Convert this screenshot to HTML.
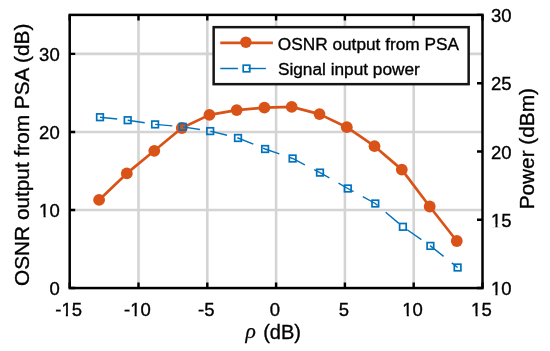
<!DOCTYPE html>
<html><head><meta charset="utf-8"><title>OSNR output from PSA vs rho</title><style>
html,body{margin:0;padding:0;background:#fff;overflow:hidden;}
svg{display:block;}
text{font-family:"Liberation Sans",Arial,sans-serif;font-size:18.5px;fill:#000;stroke:#000;stroke-width:0.35px;}
</style></head><body>
<svg width="550" height="351" viewBox="0 0 550 351">
<rect x="0" y="0" width="550" height="351" fill="#fff"/>
<path d="M138.50 14.90V288.06M207.30 14.90V288.06M276.10 14.90V288.06M344.90 14.90V288.06M413.70 14.90V288.06M69.70 210.01H482.50M69.70 131.97H482.50M69.70 53.92H482.50" stroke="#d4d4d4" stroke-width="2.6" fill="none"/>
<polyline points="99.1,199.9 126.8,173.4 154.3,150.8 181.8,128.0 209.4,114.9 236.7,110.1 264.4,107.7 291.7,106.9 319.5,114.1 346.8,127.2 374.5,146.2 401.8,169.6 429.7,206.5 456.8,241.0" fill="none" stroke="#D95319" stroke-width="2.7" stroke-linejoin="round"/>
<g fill="#D95319"><circle cx="99.1" cy="199.9" r="5.9"/><circle cx="126.8" cy="173.4" r="5.9"/><circle cx="154.3" cy="150.8" r="5.9"/><circle cx="181.8" cy="128.0" r="5.9"/><circle cx="209.4" cy="114.9" r="5.9"/><circle cx="236.7" cy="110.1" r="5.9"/><circle cx="264.4" cy="107.7" r="5.9"/><circle cx="291.7" cy="106.9" r="5.9"/><circle cx="319.5" cy="114.1" r="5.9"/><circle cx="346.8" cy="127.2" r="5.9"/><circle cx="374.5" cy="146.2" r="5.9"/><circle cx="401.8" cy="169.6" r="5.9"/><circle cx="429.7" cy="206.5" r="5.9"/><circle cx="456.8" cy="241.0" r="5.9"/></g>
<polyline points="100.0,117.2 127.7,120.2 155.1,124.4 182.7,126.8 210.2,131.1 238.0,138.0 265.1,149.0 292.6,158.5 320.0,172.6 347.8,188.5 375.3,203.5 402.9,226.8 430.4,245.9 457.6,267.5" fill="none" stroke="#0072BD" stroke-width="1.4" stroke-dasharray="17.3 10.5"/>
<g fill="none" stroke="#0072BD" stroke-width="1.7"><rect x="96.70" y="113.90" width="6.6" height="6.6"/><rect x="124.40" y="116.90" width="6.6" height="6.6"/><rect x="151.80" y="121.10" width="6.6" height="6.6"/><rect x="179.40" y="123.50" width="6.6" height="6.6"/><rect x="206.90" y="127.80" width="6.6" height="6.6"/><rect x="234.70" y="134.70" width="6.6" height="6.6"/><rect x="261.80" y="145.70" width="6.6" height="6.6"/><rect x="289.30" y="155.20" width="6.6" height="6.6"/><rect x="316.70" y="169.30" width="6.6" height="6.6"/><rect x="344.50" y="185.20" width="6.6" height="6.6"/><rect x="372.00" y="200.20" width="6.6" height="6.6"/><rect x="399.60" y="223.50" width="6.6" height="6.6"/><rect x="427.10" y="242.60" width="6.6" height="6.6"/><rect x="454.30" y="264.20" width="6.6" height="6.6"/></g>
<rect x="69.7" y="14.9" width="412.80" height="273.16" fill="none" stroke="#000" stroke-width="2.5"/>
<path d="M69.70 288.06V282.56M69.70 14.90V20.40M138.50 288.06V282.56M138.50 14.90V20.40M207.30 288.06V282.56M207.30 14.90V20.40M276.10 288.06V282.56M276.10 14.90V20.40M344.90 288.06V282.56M344.90 14.90V20.40M413.70 288.06V282.56M413.70 14.90V20.40M482.50 288.06V282.56M482.50 14.90V20.40M69.70 288.06H75.20M69.70 210.01H75.20M69.70 131.97H75.20M69.70 53.92H75.20M482.50 288.06H477.00M482.50 219.77H477.00M482.50 151.48H477.00M482.50 83.19H477.00M482.50 14.90H477.00" stroke="#000" stroke-width="2.4" fill="none"/>
<g class="t">
<text x="55.23" y="316.40">-15</text>
<text x="124.03" y="316.40">-10</text>
<text x="197.98" y="316.40">-5</text>
<text x="269.86" y="316.40">0</text>
<text x="338.66" y="316.40">5</text>
<text x="402.31" y="316.40">10</text>
<text x="471.11" y="316.40">15</text>
<text x="49.41" y="295.36">0</text>
<text x="39.12" y="217.31">10</text>
<text x="39.12" y="139.27">20</text>
<text x="39.12" y="61.22">30</text>
<text x="491.00" y="295.26">10</text>
<text x="491.00" y="226.97">15</text>
<text x="491.00" y="158.68">20</text>
<text x="491.00" y="90.39">25</text>
<text x="491.00" y="22.10">30</text>
</g>
<text transform="translate(29.1 154.8) rotate(-90)" text-anchor="middle" style="font-size:20.8px">OSNR output from PSA (dB)</text>
<text transform="translate(534.2 148.7) rotate(-90)" text-anchor="middle" style="font-size:20.8px">Power (dBm)</text>
<text x="245.6" y="338.4" style="font-family:'Liberation Serif',serif;font-style:italic;font-size:21.5px;stroke-width:0.25px">ρ</text>
<text x="263.2" y="338.7" style="font-size:20px">(dB)</text>
<rect x="213.66" y="27.16" width="255" height="57" fill="#fff" stroke="#151515" stroke-width="2.5"/>
<line x1="220.3" y1="42.9" x2="272.9" y2="42.9" stroke="#D95319" stroke-width="2.7"/>
<circle cx="245.9" cy="42.2" r="5.8" fill="#D95319"/>
<line x1="220.3" y1="68.5" x2="272.9" y2="68.5" stroke="#0072BD" stroke-width="1.4" stroke-dasharray="17.6 10.4"/>
<rect x="243.2" y="65.2" width="6.6" height="6.6" fill="none" stroke="#0072BD" stroke-width="1.7"/>
<text x="277.8" y="49.6" style="font-size:17.25px">OSNR output from PSA</text>
<text x="277.9" y="74.6" style="font-size:17.25px">Signal input power</text>
<g fill="#fff"><rect x="61.60" y="313.74" width="4.22" height="3.26"/><rect x="67.90" y="313.74" width="4.12" height="3.26"/><rect x="130.40" y="313.74" width="4.22" height="3.26"/><rect x="136.70" y="313.74" width="4.12" height="3.26"/><rect x="402.52" y="313.74" width="4.22" height="3.26"/><rect x="408.82" y="313.74" width="4.12" height="3.26"/><rect x="471.32" y="313.74" width="4.22" height="3.26"/><rect x="477.62" y="313.74" width="4.12" height="3.26"/><rect x="39.33" y="214.66" width="4.22" height="3.26"/><rect x="45.63" y="214.66" width="4.12" height="3.26"/><rect x="491.21" y="292.60" width="4.22" height="3.26"/><rect x="497.51" y="292.60" width="4.12" height="3.26"/><rect x="491.21" y="224.31" width="4.22" height="3.26"/><rect x="497.51" y="224.31" width="4.12" height="3.26"/></g>
</svg>
</body></html>
